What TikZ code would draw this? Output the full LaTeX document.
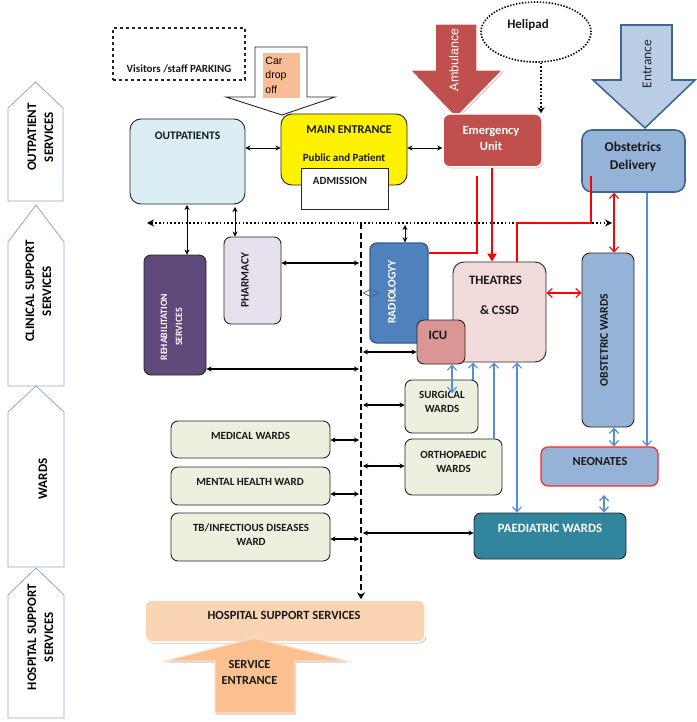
\documentclass[tikz,border=0pt]{standalone}
\usepackage{fontspec}
\setmainfont{Carlito}
\newfontfamily\arialf{Liberation Sans}
\usetikzlibrary{arrows.meta,shapes.geometric,shadows}
\definecolor{emred}{HTML}{C0504D}
\definecolor{obsblue}{HTML}{95B3D7}
\definecolor{obsedge}{HTML}{3F6796}
\definecolor{radblue}{HTML}{4F81BD}
\definecolor{raddark}{HTML}{385D8A}
\definecolor{rehabc}{HTML}{5F497A}
\definecolor{pharmc}{HTML}{E5E0EC}
\definecolor{icuc}{HTML}{D99694}
\definecolor{theac}{HTML}{F2DCDB}
\definecolor{wardc}{HTML}{EBF1DE}
\definecolor{paedc}{HTML}{31859C}
\definecolor{hssc}{HTML}{FBD4B4}
\definecolor{svcc}{HTML}{FAC090}
\definecolor{outpc}{HTML}{DAEEF3}
\definecolor{carc}{HTML}{F8BD94}
\definecolor{bannerc}{HTML}{8EA9C8}
\definecolor{lblue}{HTML}{558ED5}
\definecolor{matc}{HTML}{B9CDE5}
\tikzset{
  box/.style={draw=black!85, line width=0.9pt, rounded corners=7pt, inner sep=0pt},
  lbl/.style={font=\bfseries\fontsize{11}{14}\selectfont, align=center, inner sep=0pt, text=black!90},
  banner/.style={draw=bannerc, line width=0.8pt, fill=white},
  bantext/.style={font=\bfseries\fontsize{13}{17}\selectfont, align=center, rotate=90, inner sep=0pt},
  dbl/.style={{Stealth[length=5pt,width=5pt]}-{Stealth[length=5pt,width=5pt]}, line width=1.2pt},
  dblthin/.style={{Stealth[length=5pt,width=5pt]}-{Stealth[length=5pt,width=5pt]}, line width=0.8pt},
  redthin/.style={draw=red, line width=1.1pt},
  redarr/.style={draw=red, line width=1.1pt, {Straight Barb[length=5pt,width=9pt]}-{Straight Barb[length=5pt,width=9pt]}},
  bluearr/.style={draw=lblue, line width=1.1pt},
  bluetip/.style={-{Straight Barb[length=5pt,width=9pt]}},
  bluedbl/.style={{Straight Barb[length=5pt,width=9pt]}-{Straight Barb[length=5pt,width=9pt]}},
  shad/.style={drop shadow={shadow xshift=1.2pt, shadow yshift=-1.5pt, opacity=0.35, fill=black!60}},
}
\begin{document}
\begin{tikzpicture}[x=1pt,y=-1pt]
\useasboundingbox (0,0) rectangle (696,722);
\fill[white] (0,0) rectangle (696,722);

% ---------- left banners ----------
\draw[banner] (8,201) -- (8,108) -- (35.5,82) -- (63,108) -- (63,201) -- cycle;
\node[bantext] (b1) at (40.5,137) {OUTPATIENT\\SERVICES};
\draw[banner] (8,386) -- (8,242) -- (36,205) -- (64,242) -- (64,386) -- cycle;
\node[bantext] (b2) at (38.5,291) {CLINICAL SUPPORT\\SERVICES};
\draw[banner] (8,567) -- (8,412) -- (36,386) -- (64,412) -- (64,567) -- cycle;
\node[bantext] (b3) at (43,479) {WARDS};
\draw[banner] (8,718) -- (8,595) -- (36,568) -- (64,595) -- (64,718) -- cycle;
\node[bantext] (b4) at (40.5,637) {HOSPITAL SUPPORT\\SERVICES};

% ---------- parking & car drop off ----------
\node[draw=black!85, dashed, line width=1.1pt, minimum width=132pt, minimum height=52pt, inner sep=0pt] (park) at (179,54) {};
\node[lbl] (parkT) at (179,69) {Visitors /staff PARKING};
\draw[draw=black!85, line width=0.9pt, fill=white] (255,47) -- (307,47) -- (307,97) -- (335,97) -- (282,115) -- (226,97) -- (255,97) -- cycle;
\node[fill=carc, minimum width=37pt, minimum height=45pt, inner sep=0pt] (car) at (281.5,75.5) {};
\node[font=\arialf\fontsize{10.5}{14.5}\selectfont, align=left, inner sep=0pt] (carT) at (276,75) {Car\\drop\\off};

% ---------- helipad ----------
\node[ellipse, draw=black, line width=1.6pt, dash pattern=on 1.4pt off 1.6pt, minimum width=110pt, minimum height=60pt, inner sep=0pt] (heli) at (536,32) {};
\node[lbl, font=\bfseries\fontsize{13}{15}\selectfont] (heliT) at (528,25) {Helipad};

% ---------- ambulance arrow ----------
\draw[fill=emred, draw=white, line width=1.5pt, shad] (435,24) -- (477,24) -- (477,70) -- (503,70) -- (456,118) -- (410,70) -- (435,70) -- cycle;
\node[font=\arialf\fontsize{12.5}{14}\selectfont, text=white, rotate=90, inner sep=0pt] (ambT) at (454,60) {Ambulance};

% ---------- maternity entrance arrow ----------
\draw[fill=matc, draw=obsedge, line width=1.6pt] (621,25) -- (672,25) -- (672,80) -- (695,80) -- (645,128) -- (593,80) -- (621,80) -- cycle;
\node[font=\fontsize{13.5}{15}\selectfont, text=black!85, rotate=90, inner sep=0pt] (entT) at (647,64) {Entrance};

% ---------- top row ----------
\node[box, fill=outpc, minimum width=115pt, minimum height=85pt, rounded corners=11pt] (outp) at (187.5,161.5) {};
\node[lbl, font=\bfseries\fontsize{11.5}{14}\selectfont] (outpT) at (187.5,136) {OUTPATIENTS};
\node[box, fill=yellow, minimum width=126pt, minimum height=71pt, rounded corners=11pt] (mainE) at (344,149.5) {};
\node[lbl, font=\bfseries\fontsize{12}{14}\selectfont] (mainT1) at (349,130) {MAIN ENTRANCE};
\node[lbl] (mainT2) at (344,158) {Public and Patient};
\node[draw=black!85, line width=0.9pt, fill=white, minimum width=87pt, minimum height=41pt, inner sep=0pt] (adm) at (344.5,188.5) {};
\node[lbl] (admT) at (340,181) {ADMISSION};
\node[box, fill=emred, draw=white, line width=1.5pt, minimum width=99pt, minimum height=53pt, shad] (emerg) at (492.5,140.5) {};
\node[lbl, font=\bfseries\fontsize{12.5}{16}\selectfont, text=white] (emergT) at (491,138) {Emergency\\Unit};
\node[box, fill=obsblue, draw=obsedge, line width=1.6pt, minimum width=103pt, minimum height=62pt, rounded corners=10pt] (obsD) at (633.5,161) {};
\node[lbl, font=\bfseries\fontsize{13.5}{18}\selectfont] (obsDT) at (633,157) {Obstetrics\\Delivery};

% ---------- clinical support ----------
\node[box, fill=rehabc, minimum width=62pt, minimum height=120pt] (rehab) at (175,315) {};
\node[lbl, text=white, rotate=90, font=\bfseries\fontsize{9.7}{15}\selectfont] (rehabT) at (171.5,327) {REHABILITATION\\SERVICES};
\node[box, fill=pharmc, minimum width=57pt, minimum height=87pt] (pharm) at (252.5,280.5) {};
\node[lbl, rotate=90, font=\bfseries\fontsize{11.3}{14}\selectfont] (pharmT) at (245,280) {PHARMACY};
\node[box, fill=radblue, draw=raddark, line width=1.4pt, minimum width=58pt, minimum height=100pt] (radio) at (399,293) {};
\node[lbl, rotate=90, text=white, font=\bfseries\fontsize{11.5}{14}\selectfont] (radioT) at (392,292) {RADIOLOGYY};
\node[box, fill=theac, minimum width=93pt, minimum height=100pt, rounded corners=11pt] (thea) at (499.5,312) {};
\node[lbl, font=\bfseries\fontsize{12.8}{15}\selectfont] (theaT1) at (495.5,280) {THEATRES};
\node[lbl, font=\bfseries\fontsize{12.8}{15}\selectfont] (theaT2) at (499.5,310) {\& CSSD};
\node[box, fill=icuc, minimum width=48pt, minimum height=44pt] (icu) at (441,342) {};
\node[lbl, font=\bfseries\fontsize{12.8}{15}\selectfont] (icuT) at (438,335) {ICU};
\node[box, fill=obsblue, minimum width=52pt, minimum height=174pt, rounded corners=8pt] (obsW) at (608,340) {};
\node[lbl, rotate=90, font=\bfseries\fontsize{11.7}{14}\selectfont] (obsWT) at (604,340) {OBSTETRIC WARDS};
\node[diamond, draw=obsedge, line width=0.8pt, minimum width=16pt, minimum height=8pt, inner sep=0pt] (dmd) at (371,293) {};

% ---------- wards ----------
\node[box, fill=wardc, minimum width=73pt, minimum height=53pt] (surg) at (441.5,406.5) {};
\node[lbl] (surgT) at (442,402) {SURGICAL\\WARDS};
\node[box, fill=wardc, minimum width=97pt, minimum height=56pt] (ortho) at (453.5,467) {};
\node[lbl] (orthoT) at (453.5,462) {ORTHOPAEDIC\\WARDS};
\node[box, fill=wardc, minimum width=159pt, minimum height=37pt] (med) at (250.5,439.5) {};
\node[lbl] (medT) at (250.5,436) {MEDICAL WARDS};
\node[box, fill=wardc, minimum width=159pt, minimum height=38pt] (ment) at (250.5,486) {};
\node[lbl] (mentT) at (250,482) {MENTAL HEALTH WARD};
\node[box, fill=wardc, minimum width=159pt, minimum height=48pt] (tb) at (250.5,537) {};
\node[lbl] (tbT) at (251,535) {TB/INFECTIOUS DISEASES\\WARD};
\node[box, fill=obsblue, draw=red!85, line width=1.2pt, minimum width=117pt, minimum height=39pt] (neon) at (599.5,466.5) {};
\node[lbl, font=\bfseries\fontsize{12.3}{14}\selectfont] (neonT) at (600,462) {NEONATES};
\node[box, fill=paedc, minimum width=152pt, minimum height=46pt] (paed) at (550,536) {};
\node[lbl, font=\bfseries\fontsize{12.7}{14}\selectfont, text=white] (paedT) at (550,528) {PAEDIATRIC WARDS};

% ---------- hospital support ----------
\node[box, fill=hssc, draw=white, line width=1.5pt, minimum width=280pt, minimum height=42pt, shad] (hss) at (285,621) {};
\node[lbl, font=\bfseries\fontsize{12.5}{14}\selectfont] (hssT) at (284,615) {HOSPITAL SUPPORT SERVICES};
\draw[fill=svcc, draw=hssc!70!white, line width=1.2pt, shad] (215,713) -- (295,713) -- (295,661) -- (347,661) -- (254,638) -- (165,661) -- (215,661) -- cycle;
\node[lbl, font=\bfseries\fontsize{12.4}{16}\selectfont] (svcT) at (249.5,672) {SERVICE\\ENTRANCE};

% ---------- spines ----------
\coordinate (hL) at (147,223);
\coordinate (hR) at (612,223);
\coordinate (vT) at (361,223);
\draw[line width=1.8pt, dash pattern=on 1.6pt off 2.2pt, {Stealth[length=7pt,width=7pt]}-{Stealth[length=7pt,width=7pt]}] (hL) -- (hR);
\draw[line width=2.6pt, dash pattern=on 6pt off 3.5pt, -{Stealth[length=7pt,width=8pt]}] (vT) -- (vT |- hss.north);

% ---------- black connectors ----------
\draw[dblthin] (outp.east |- 0,148) -- (mainE.west |- 0,148);
\draw[dblthin] (mainE.east |- 0,148) -- (emerg.west |- 0,148);
\draw[line width=1.8pt, dash pattern=on 1.6pt off 2pt, -{Stealth[length=6pt,width=7pt]}] ([xshift=5pt]heli.south) -- ([xshift=5pt]heli.south |- emerg.north);
\draw[dblthin] (187,205) -- (rehab.north -| 187,0);
\draw[dblthin] (235,207) -- (pharm.north -| 235,0);
\draw[dbl] (pharm.east |- 0,263) -- (359,263);
\draw[dbl] (rehab.east |- 0,369) -- (359,369);
\draw[dblthin] (405,225) -- (radio.north -| 405,0);
\draw[dbl] (363,352) -- (icu.west |- 0,352);
\draw[dbl] (363,405) -- (surg.west |- 0,405);
\draw[dbl] (363,466) -- (ortho.west |- 0,466);
\draw[dbl] (363,533) -- (paed.west |- 0,533);
\draw[dbl] (med.east |- 0,440) -- (359,440);
\draw[dbl] (ment.east |- 0,494) -- (359,494);
\draw[dbl] (tb.east |- 0,539) -- (359,539);

% ---------- red connectors ----------
\draw[draw=red, line width=2.6pt, -{Triangle[length=8pt,width=9pt]}] (emerg.south -| 492,0) -- (thea.north -| 492,0);
\coordinate (r1) at (477,176);
\draw[redthin] (r1) -- (477,253) -- (radio.east |- 0,253);
\coordinate (r2) at (591,176);
\draw[redthin] (r2) -- (591,223) -- (517,223) -- (thea.north -| 517,0);
\draw[redarr] (obsD.south -| 614,0) -- (obsW.north -| 614,0);
\draw[redarr] (thea.east |- 0,293) -- (obsW.west |- 0,293);

% ---------- blue connectors ----------
\draw[bluearr, bluetip] (obsD.south -| 647,0) -- (neon.north -| 647,0);
\draw[bluearr, bluedbl, line width=1.3pt] (obsW.south -| 614,0) -- (neon.north -| 614,0);
\draw[bluearr, bluedbl, line width=1.3pt] (604,495) -- (paed.north -| 604,0);
\draw[bluearr, bluedbl] (icu.south -| 452,0) -- (452,393);
\draw[bluearr, bluetip] (surg.north -| 473,0) -- (thea.south -| 473,0);
\draw[bluearr, bluetip] (ortho.north -| 494,0) -- (thea.south -| 494,0);
\draw[bluearr, bluedbl] (paed.north -| 517,0) -- (thea.south -| 517,0);
\end{tikzpicture}
\end{document}
